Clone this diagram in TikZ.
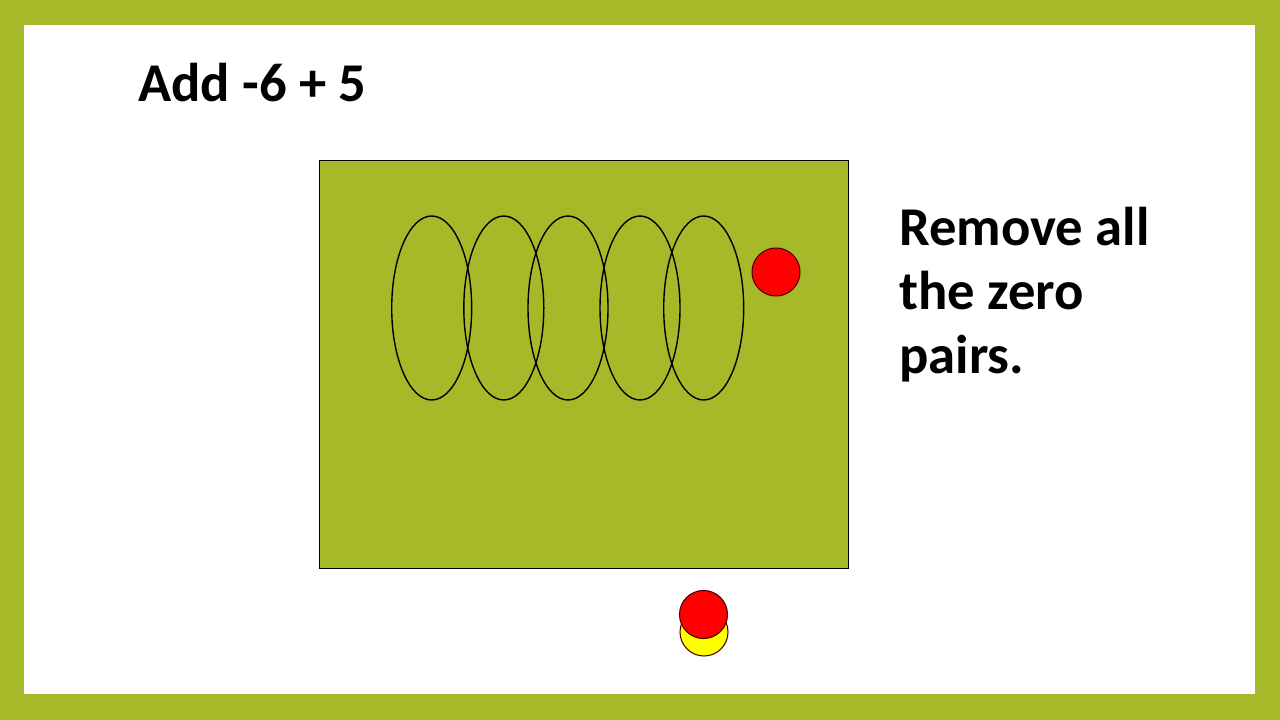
\documentclass[tikz,border=0pt]{standalone}
\usepackage{fontspec}
\setmainfont{Carlito}
\definecolor{olive}{RGB}{166,185,41}
\definecolor{cred}{RGB}{255,0,0}
\definecolor{cyellow}{RGB}{255,255,0}
\begin{document}
\begin{tikzpicture}[x=0.75pt,y=-0.75pt,
  txt/.style={font=\fontsize{41}{48}\selectfont\bfseries, inner sep=0pt, anchor=base west, align=left},
  pairloop/.style={draw=black, line width=1.05pt},
  counter/.style={draw=black!70!red, line width=0.8pt}]
\useasboundingbox (0,0) rectangle (1280,720);
\fill[olive] (0,0) rectangle (1280,720);
\fill[white] (24,25) rectangle (1255,694);
\node[txt] (title) at (138,102) {Add -6 + 5};
\node[draw=black, line width=0.8pt, fill=olive, minimum width=529*0.75pt, minimum height=408*0.75pt, inner sep=0pt, anchor=north west] (mat) at (319,160) {};
\foreach \cx [count=\i] in {431.7,503.8,568,640,703.7}
  \draw[pairloop] (\cx,308) ellipse [x radius=40, y radius=92];
\node[counter, circle, fill=cred, minimum size=48*0.75pt, inner sep=0pt] (r1) at (776,272) {};
\node[counter, circle, fill=cyellow, minimum size=48*0.75pt, inner sep=0pt] (y1) at (704,632) {};
\node[counter, circle, fill=cred, minimum size=48*0.75pt, inner sep=0pt] (r2) at (703.5,614.5) {};
\node[txt] (instr) at (899,373) {Remove all\\the zero\\pairs.};
\end{tikzpicture}
\end{document}
